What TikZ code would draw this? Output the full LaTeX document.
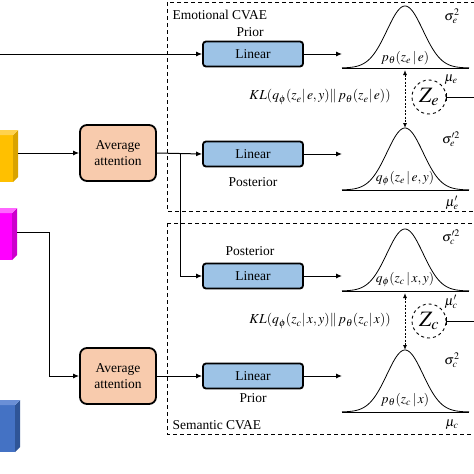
\documentclass[tikz,border=0pt]{standalone}
\usepackage{mathptmx}
\usepackage{fontspec}
\setmainfont{Liberation Serif}
\usetikzlibrary{arrows.meta}
\definecolor{linblue}{HTML}{9DC3E6}
\definecolor{attpeach}{HTML}{F8CBAD}
\definecolor{orfront}{HTML}{FFC000}
\definecolor{orside}{HTML}{D9A300}
\definecolor{ortop}{HTML}{FFD24D}
\definecolor{mgfront}{HTML}{FF00FF}
\definecolor{mgside}{HTML}{CC00CC}
\definecolor{mgtop}{HTML}{FF66FF}
\definecolor{blfront}{HTML}{4472C4}
\definecolor{blside}{HTML}{2F5597}
\definecolor{bltop}{HTML}{6A8FD6}
\newcommand{\bell}[1]{%
  \draw[line width=0.8pt] (342,#1) -- (469,#1);
  \draw[line width=0.8pt] plot[domain=-63:64,samples=90,smooth] ({405+\x},{#1-62*exp(-\x*\x/650)});}
\newcommand{\block}[6]{%
  \fill[#4] (-6,#2) rectangle (#1,#3);
  \fill[#5] (#1,#2) -- (#1+5,#2-5) -- (#1+5,#3-5) -- (#1,#3) -- cycle;
  \fill[#6] (-6,#2) -- (-1,#2-5) -- (#1+5,#2-5) -- (#1,#2) -- cycle;}

\begin{document}
\begin{tikzpicture}[x=1pt,y=-1pt,
  font=\fontsize{13.5}{15}\selectfont,
  conn/.style={line width=1pt},
  to/.style={conn,-{Latex[length=6pt,width=5pt]}},
  lin/.style={draw,line width=1.8pt,rounded corners=3pt,fill=linblue,minimum width=100pt,minimum height=25pt,inner sep=0pt},
  att/.style={draw,line width=1.8pt,rounded corners=7pt,fill=attpeach,minimum width=76pt,minimum height=56pt,align=center,inner sep=0pt,font=\fontsize{13.5}{16}\selectfont},
  vae/.style={dash pattern=on 4pt off 3pt,line width=0.9pt},
  zcirc/.style={draw,dashed,line width=0.9pt,circle,minimum size=34pt,inner sep=0pt,font=\fontsize{22}{24}\selectfont},
  kl/.style={dash pattern=on 2pt off 1.5pt,line width=0.9pt,{Latex[length=5pt,width=4pt]}-{Latex[length=5pt,width=4pt]}},
  lbl/.style={font=\fontsize{13.5}{15}\selectfont},
  kltxt/.style={font=\fontsize{13.7}{16}\selectfont}]
  \useasboundingbox (0,0) rectangle (474,474);

  \draw[vae] (167,  2) rectangle (490,211);
  \draw[vae] (167,223) rectangle (490,434);
  \node[anchor=west] (emo) at (169, 15) {Emotional CVAE};
  \node[anchor=west] (sem) at (169,425) {Semantic CVAE};

  \block{13}{135}{182}{orfront}{orside}{ortop}
  \block{12}{213}{260}{mgfront}{mgside}{mgtop}
  \block{15}{405}{452}{blfront}{blside}{bltop}
  \coordinate (in0) at (  0, 54);
  \coordinate (or)  at ( 18,153);
  \coordinate (mg)  at ( 17,232);
  \coordinate (kink) at ( 49,232);
  \coordinate (br)  at (180,153);

  \node[att] (att1) at (118,153) {Average\\attention};
  \node[att] (att2) at (118,376) {Average\\attention};

  \node[lin] (lin1) at (253, 54) {Linear};
  \node[lin] (lin2) at (253,154) {Linear};
  \node[lin] (lin3) at (253,276) {Linear};
  \node[lin] (lin4) at (253,376) {Linear};
  \node (pri1) at (250, 32) {Prior};
  \node (pos1) at (253,182) {Posterior};
  \node (pos2) at (250,251) {Posterior};
  \node (pri2) at (253,398) {Prior};

  \bell{ 68}
  \bell{190}
  \bell{291}
  \bell{412}
  \coordinate (g1) at (342, 54);
  \coordinate (g2) at (342,154);
  \coordinate (g3) at (342,276);
  \coordinate (g4) at (342,376);
  \coordinate (b1) at (405, 70);
  \coordinate (t2) at (405,128);
  \coordinate (b3) at (405,293);
  \coordinate (t4) at (405,350);
  \coordinate (re) at (480, 97);
  \coordinate (rc) at (480,321);

  \node[lbl] (p1) at (405, 58) {$p_\theta(z_e\,|\,e)$};
  \node[lbl] (q1) at (405,179) {$q_\phi(z_e\,|\,e,y)$};
  \node[lbl] (q2) at (405,280) {$q_\phi(z_c\,|\,x,y)$};
  \node[lbl] (p2) at (405,400) {$p_\theta(z_c\,|\,x)$};
  \node[lbl] (s1) at (452, 16) {$\sigma_e^2$};
  \node[lbl] (s2) at (451,139) {$\sigma_e^{\prime2}$};
  \node[lbl] (s3) at (451,237) {$\sigma_c^{\prime2}$};
  \node[lbl] (s4) at (452,360) {$\sigma_c^2$};
  \node[lbl] (m1) at (451, 80) {$\mu_e$};
  \node[lbl] (m2) at (452,203) {$\mu_e'$};
  \node[lbl] (m3) at (451,302) {$\mu_c'$};
  \node[lbl] (m4) at (452,425) {$\mu_c$};
  \node[kltxt] (kl1) at (320, 97) {$KL(q_\phi(z_e|\,e,y)\|\,p_\theta(z_e|\,e))$};
  \node[kltxt] (kl2) at (320,321) {$KL(q_\phi(z_c|\,x,y)\|\,p_\theta(z_c|\,x))$};
  \node[zcirc] (ze) at (429, 97) {$Z_e$};
  \node[zcirc] (zc) at (429,321) {$Z_c$};

  \draw[to] (in0) -- (lin1.west);
  \draw[to] (or) -- (att1.west);
  \draw[to] (mg) -- (kink) |- (att2.west);
  \draw[to] (att1.east) -- (lin2.west);
  \draw[to] (br) |- (lin3.west);
  \draw[to] (att2.east) -- (lin4.west);
  \draw[to] (lin1.east) -- (g1);
  \draw[to] (lin2.east) -- (g2);
  \draw[to] (lin3.east) -- (g3);
  \draw[to] (lin4.east) -- (g4);
  \draw[kl] (b1) -- (t2);
  \draw[kl] (b3) -- (t4);
  \draw[conn,{Bar[width=8pt]}-] (ze.east) -- (re);
  \draw[conn,{Bar[width=8pt]}-] (zc.east) -- (rc);
\end{tikzpicture}
\end{document}
